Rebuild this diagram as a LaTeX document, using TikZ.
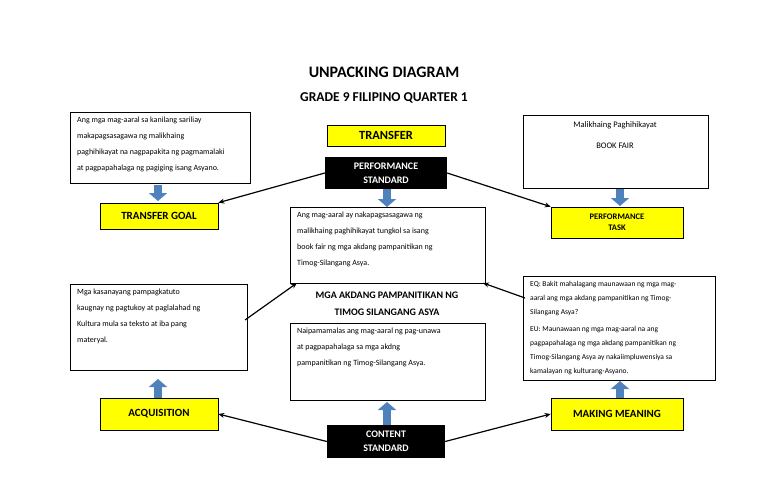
\documentclass[tikz,border=0pt]{standalone}
\usepackage{fontspec}
\setmainfont{Carlito}
\usetikzlibrary{arrows.meta}
\definecolor{ylw}{RGB}{255,255,0}
\definecolor{blu}{RGB}{79,129,189}
\begin{document}
\begin{tikzpicture}[x=1pt,y=-1pt,
  tbox/.style={draw=black,line width=0.8pt,fill=white},
  ybox/.style={draw=black,line width=0.6pt,fill=ylw,font=\bfseries},
  kbox/.style={fill=black,text=white,font=\bfseries\fontsize{10}{14}\selectfont,align=center},
  txt/.style={font=\fontsize{8}{16}\selectfont,align=left,anchor=north west,inner sep=0pt},
  conn/.style={line width=1.2pt,-{Stealth[length=6pt,width=5pt]}},
  barrow/.style={line width=8pt,blu,-{Triangle[length=8pt,width=18pt]}}]
\useasboundingbox (0,0) rectangle (768,503);
\node[font=\bfseries\fontsize{16}{18}\selectfont] (t1) at (384,72) {UNPACKING DIAGRAM};
\node[font=\bfseries\fontsize{13.5}{15}\selectfont] (t2) at (384,98) {GRADE 9 FILIPINO QUARTER 1};
% boxes
\draw[tbox] (70,112) rectangle (250,183);
\node[txt] (tl) at (77,117) {Ang mga mag-aaral sa kanilang sariliay\\makapagsasagawa ng malikhaing\\paghihikayat na nagpapakita ng pagmamalaki\\at pagpapahalaga ng pagiging isang Asyano.};
\node[ybox,minimum width=118pt,minimum height=26pt,font=\bfseries\fontsize{11}{12}\selectfont] (tg) at (159,216) {TRANSFER GOAL};
\node[ybox,minimum width=118pt,minimum height=21pt,font=\bfseries\fontsize{12.5}{12}\selectfont] (tr) at (386,135.5) {TRANSFER};
\node[kbox,minimum width=122pt,minimum height=32pt] (ps) at (386,173) {PERFORMANCE\\STANDARD};
\draw[tbox] (290,207) rectangle (485,283);
\coordinate (ctl) at (297,283);
\coordinate (ctr) at (483,283);
\node[txt] (ct) at (297,212) {Ang mag-aaral ay nakapagsasagawa ng\\malikhaing paghihikayat tungkol sa isang\\book fair ng mga akdang pampanitikan ng\\Timog-Silangang Asya.};
\node[font=\bfseries\fontsize{10}{17}\selectfont,align=center] (mid) at (387,304) {MGA AKDANG PAMPANITIKAN NG\\TIMOG SILANGANG ASYA};
\draw[tbox] (290,323) rectangle (485,400);
\node[txt] (cb) at (297,328) {Naipamamalas ang mag-aaral ng pag-unawa\\at pagpapahalaga sa mga akdng\\pampanitikan ng Timog-Silangang Asya.};
\node[kbox,minimum width=118pt,minimum height=33pt] (cs) at (386,441.5) {CONTENT\\STANDARD};
\draw[tbox] (523,115) rectangle (708,188);
\node[font=\fontsize{8.5}{12}\selectfont,align=center] (tr1) at (615,125) {Malikhaing Paghihikayat};
\node[font=\fontsize{8.5}{12}\selectfont,align=center] (tr2) at (615,146) {BOOK FAIR};
\node[ybox,minimum width=132pt,minimum height=31pt,font=\bfseries\fontsize{8.5}{11}\selectfont,align=center] (pt) at (617,222.5) {PERFORMANCE\\TASK};
\draw[tbox] (70,284) rectangle (247,370);
\coordinate (lmr) at (245,320);
\node[txt] (lm) at (77,289) {Mga kasanayang pampagkatuto\\kaugnay ng pagtukoy at paglalahad ng\\Kultura mula sa teksto at iba pang\\materyal.};
\node[ybox,minimum width=118pt,minimum height=32pt,font=\bfseries\fontsize{11}{12}\selectfont] (aq) at (159,414) {ACQUISITION};
\draw[tbox] (523,276) rectangle (715,380);
\coordinate (rml) at (525,298);
\node[txt,font=\fontsize{7.5}{14}\selectfont] (rm) at (530,281) {EQ: Bakit mahalagang maunawaan ng mga mag-\\aaral ang mga akdang pampanitikan ng Timog-\\Silangang Asya?};
\node[txt,font=\fontsize{7.5}{14}\selectfont] (rm2) at (530,326) {EU: Maunawaan ng mga mag-aaral na ang\\pagpapahalaga ng mga akdang pampanitikan ng\\Timog-Silangang Asya ay nakaiimpluwensiya sa\\kamalayan ng kulturang-Asyano.};
\node[ybox,minimum width=132pt,minimum height=32pt,font=\bfseries\fontsize{11}{12}\selectfont] (mm) at (617,414) {MAKING MEANING};
% block arrows
\draw[barrow] (158,185) -- (158,201);
\draw[barrow] (620,189) -- (620,206);
\draw[barrow] (387,189) -- (387,207);
\draw[barrow] (158,398) -- (158,379);
\draw[barrow] (620,398) -- (620,381);
\draw[barrow] (387,425) -- (387,402);
% connectors
\draw[conn] (ps.west) -- (tg.north east);
\draw[conn] (ps.east) -- (pt.north west);
\draw[conn] (cs.west) -- (aq.east);
\draw[conn] (cs.east) -- (mm.west);
\draw[conn] (lmr) -- (ctl);
\draw[conn] (rml) -- (ctr);
\end{tikzpicture}
\end{document}
